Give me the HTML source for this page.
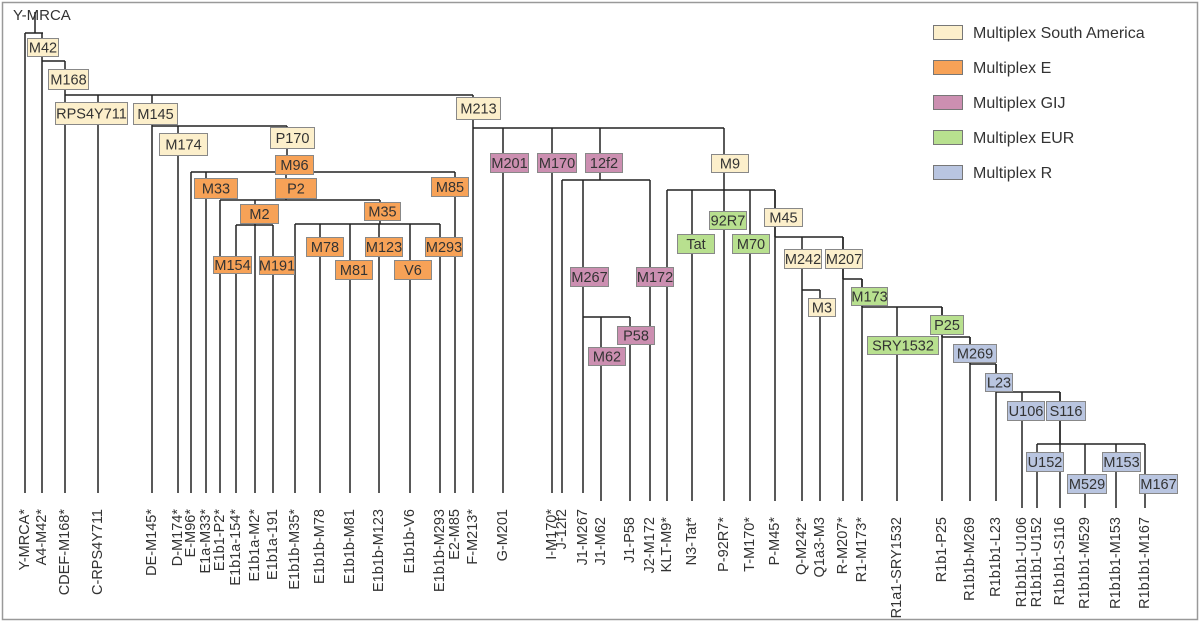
<!DOCTYPE html>
<html><head><meta charset="utf-8">
<style>
html,body{margin:0;padding:0;background:#fff;}
svg{display:block;font-family:"Liberation Sans",Arial,sans-serif;}
</style></head>
<body>
<svg id="tree" width="1200" height="624" viewBox="0 0 1200 624" xmlns="http://www.w3.org/2000/svg">
<rect x="2.5" y="2.5" width="1195" height="617" fill="#fff" stroke="#999" stroke-width="1.5"/>
<text x="13" y="20" font-size="15" fill="#333">Y-MRCA</text>
<g id="lines" stroke="#222" stroke-width="1.5" fill="none"></g>
<g id="boxes"></g>
<g id="leaves"></g>
<g id="legend"></g>
</svg>
<script>
const NS='http://www.w3.org/2000/svg';
const groupNames=['Multiplex South America','Multiplex E','Multiplex GIJ','Multiplex EUR','Multiplex R'];
const groupColors=['#fcefcb','#f7a257','#cc8fb1','#b8e08f','#b9c5e0'];
const leafNames=['Y-MRCA*','A4-M42*','CDEF-M168*','C-RPS4Y711','DE-M145*','D-M174*','E-M96*','E1a-M33*','E1b1-P2*','E1b1a-154*','E1b1a-M2*','E1b1a-191','E1b1b-M35*','E1b1b-M78','E1b1b-M81','E1b1b-M123','E1b1b-V6','E1b1b-M293','E2-M85','F-M213*','G-M201','I-M170*','J-12f2','J1-M267','J1-M62','J1-P58','J2-M172','KLT-M9*','N3-Tat*','P-92R7*','T-M170*','P-M45*','Q-M242*','Q1a3-M3','R-M207*','R1-M173*','R1a1-SRY1532','R1b1-P25','R1b1b-M269','R1b1b1-L23','R1b1b1-U106','R1b1b1-U152','R1b1b1-S116','R1b1b1-M529','R1b1b1-M153','R1b1b1-M167'];
const leafX=[25,42,65,98,152,178,191,206,220,236,255,273,295,320,350,379,410,440,455,473,503,552,562,583,601,630,650,667,692,724,750,775,802,820,843,862,897,942,970,996,1022,1037,1060,1085,1116,1145];
const leafTop=[33,33,61,95,95,126,172,172,200,225,200,225,224,224,224,224,224,224,172,95,128,128,180,180,317,317,180,190,190,190,190,190,237,290,237,279,307,307,337,364,392,444,392,444,444,444];
const hLines=[[33,25,43],[61,42,65],[95,65,473],[126,152,287],[172,191,455],[200,220,380],[225,236,273],[224,295,440],[128,473,724],[180,562,650],[317,583,630],[190,667,775],[237,775,843],[290,802,820],[279,843,862],[307,862,942],[337,942,970],[364,970,996],[392,996,1060],[444,1037,1145]];
const vLines=[[35,12,33],[287,126,172],[286,172,200],[380,200,224],[600,128,180],[724,128,190],[775,190,237],[843,237,279],[862,279,307],[942,307,337],[970,337,364],[996,364,392],[1060,392,444]];
const boxes=[
['M42',0,27,38,58,56],['M168',0,48,69,88,89],['RPS4Y711',0,55,102,127,124],['M145',0,133,103,177,124],
['M174',0,159,133,207,155],['P170',0,270,127,314,148],['M96',1,275,155,313,174],['M33',1,194,178,237,198],
['P2',1,275,178,316,198],['M85',1,431,177,468,196],['M2',1,240,204,278,223],['M35',1,364,202,400,220],
['M154',1,213,256,251,273],['M191',1,259,256,294,274],['M78',1,306,237,343,256],['M81',1,335,260,372,279],
['M123',1,365,237,402,256],['V6',1,394,260,431,279],['M293',1,425,237,462,256],['M213',0,456,97,500,119],
['M201',2,490,153,528,172],['M170',2,537,153,576,172],['12f2',2,585,153,622,172],['M9',0,711,154,748,172],
['M267',2,570,267,608,286],['M172',2,636,267,673,286],['P58',2,617,326,654,344],['M62',2,588,347,625,365],
['Tat',3,677,234,714,253],['92R7',3,709,211,746,229],['M70',3,732,234,769,253],['M45',0,764,208,802,226],
['M242',0,784,249,821,268],['M207',0,825,249,862,268],['M3',0,808,298,835,316],['M173',3,851,287,887,305],
['SRY1532',3,867,336,938,354],['P25',3,930,315,963,334],['M269',4,953,344,996,362],['L23',4,985,373,1012,391],
['U106',4,1007,401,1044,420],['S116',4,1046,401,1085,420],['U152',4,1026,452,1063,471],['M529',4,1067,474,1106,493],
['M153',4,1102,452,1140,471],['M167',4,1139,474,1177,493]];
function el(t,a,p){const e=document.createElementNS(NS,t);for(const k in a)e.setAttribute(k,a[k]);p.appendChild(e);return e;}
const L=document.getElementById('lines'),B=document.getElementById('boxes'),F=document.getElementById('leaves'),G=document.getElementById('legend');
hLines.forEach(h=>{const e=el('line',{x1:h[1],y1:h[0],x2:h[2],y2:h[0]},L);

});
vLines.forEach(v=>{const e=el('line',{x1:v[0],y1:v[1],x2:v[0],y2:v[2]},L);

});
leafNames.forEach((n,i)=>{const x=leafX[i];let end=x<600?493:(x>=1020?508:501);
const ln=el('line',{x1:x,y1:leafTop[i],x2:x,y2:end},L);


const top=x<600?509:517;
const t=el('text',{x:x+4,y:top,'font-size':14.5,fill:'#333','text-anchor':'end',transform:`rotate(-90 ${x+4} ${top})`},F);
t.textContent=n;

});
boxes.forEach(b=>{const g=el('g',{},B);


el('rect',{x:b[2]+.5,y:b[3]+.5,width:b[4]-b[2],height:b[5]-b[3],fill:groupColors[b[1]],stroke:'#888','stroke-width':1},g);
const t=el('text',{x:(b[2]+b[4])/2+.5,y:(b[3]+b[5])/2+5.5,'font-size':14.5,fill:'#333','text-anchor':'middle'},g);t.textContent=b[0];});
const legY=[25,60,95,130,165];
groupNames.forEach((n,i)=>{const g=el('g',{},G);


el('rect',{x:933.5,y:legY[i]+.5,width:29,height:14,fill:groupColors[i],stroke:'#777','stroke-width':1},g);
const t=el('text',{x:973,y:legY[i]+13,'font-size':16,fill:'#333'},g);t.textContent=n;});
</script>
</body></html>
